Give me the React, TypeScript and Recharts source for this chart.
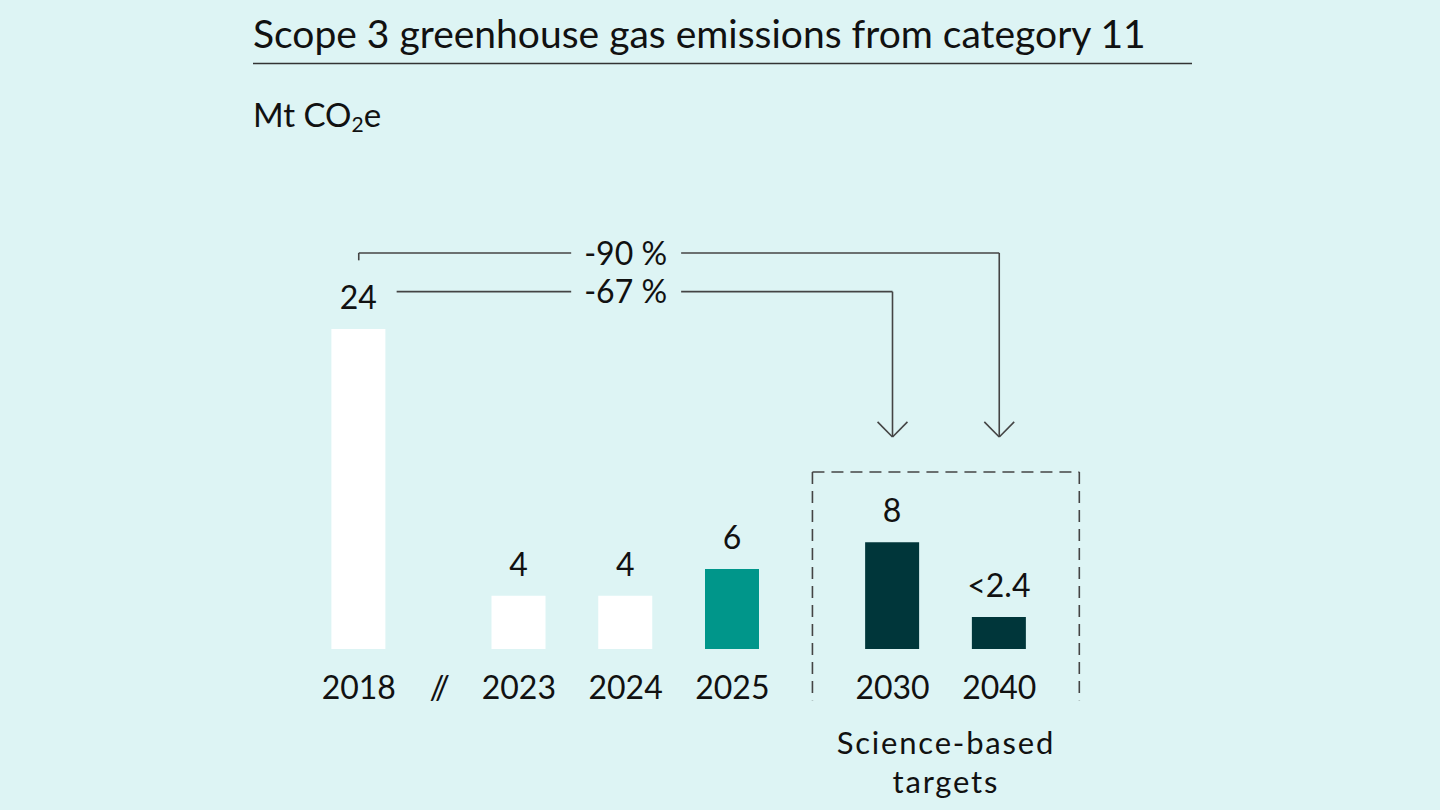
import { BarChart, Bar, XAxis, YAxis, Cell, LabelList, ReferenceLine, ReferenceDot } from 'recharts'

// categories on a numeric slot axis (gap after 2018 and before the targets)
const years = ['2018', '2023', '2024', '2025', '2030', '2040']
const slots = [0, 3, 5, 7, 10, 12]
const values = [24, 4, 4, 6, 8, 2.4]
const valueLabels = ['24', '4', '4', '6', '8', '<2.4']
const barColors = ['#ffffff', '#ffffff', '#ffffff', '#00968a', '#00363a', '#00363a']
const breakSlot = 1.5
const breakLabel = '//'

// reduction annotations
const reductions = ['-90 %', '-67 %']
const reductionLevels = [29.7, 26.8]
const reductionTargets = [12, 10]
const arrowTip = 15.9

const data = years.map((y, i) => ({ year: y, slot: slots[i], value: values[i], label: valueLabels[i] }))

const FONT = 'Lato, "Open Sans", sans-serif'
const INK = '#111'
const LINE = '#444'

const tickText: Record<number, string> = { [breakSlot]: breakLabel }
slots.forEach((s, i) => { tickText[s] = years[i] })

function YearTick(props: any) {
  const { x, y, payload } = props
  const isBreak = payload.value === breakSlot
  return (
    <text x={x} y={y} dy={50} textAnchor="middle" fontFamily={FONT} fontSize={isBreak ? 33 : 32} fill={INK} letterSpacing={isBreak ? -2 : 0}>
      {tickText[payload.value]}
    </text>
  )
}

function ValueLabel(props: any) {
  const { x, y, width, value } = props
  return (
    <text x={x + width / 2} y={y - 20} textAnchor="middle" fontFamily={FONT} fontSize={32} fill={INK}>
      {value}
    </text>
  )
}

const textShape = (txt: string, size = 32, spacing = 0) => (p: any) => (
  <text x={p.cx} y={p.cy} dy={size * 0.36} textAnchor="middle" fontFamily={FONT} fontSize={size} letterSpacing={spacing} fill={INK}>{txt}</text>
)

const seg = (x1: number, y1: number, x2: number, y2: number, key: string, dash?: string) => (
  <ReferenceLine
    key={key}
    segment={[{ x: x1, y: y1 }, { x: x2, y: y2 }]}
    stroke={LINE}
    strokeWidth={1.6}
    strokeDasharray={dash}
    ifOverflow="visible"
  />
)

export default function App() {
  const arrowHalfW = 0.28
  const arrowH = 1.13
  const annotations: any[] = []
  reductions.forEach((_, i) => {
    const lvl = reductionLevels[i]
    const tx = reductionTargets[i]
    const startX = i === 0 ? 0 : 0.71
    annotations.push(seg(startX, lvl, 3.98, lvl, `l${i}`))
    annotations.push(seg(6.04, lvl, tx, lvl, `r${i}`))
    annotations.push(seg(tx, lvl, tx, arrowTip, `v${i}`))
    annotations.push(seg(tx - arrowHalfW, arrowTip + arrowH, tx, arrowTip, `al${i}`))
    annotations.push(seg(tx, arrowTip, tx + arrowHalfW, arrowTip + arrowH, `ar${i}`))
    if (i === 0) annotations.push(seg(0, lvl, 0, lvl - 0.55, `t${i}`))
  })
  // dashed target box (open at the bottom)
  const boxL = 8.5, boxR = 13.5, boxT = 13.28, boxB = -3.85
  annotations.push(seg(boxL, boxT, boxR, boxT, 'bt', '12 7'))
  annotations.push(seg(boxL, boxT, boxL, boxB, 'bl', '12 7'))
  annotations.push(seg(boxR, boxT, boxR, boxB, 'br', '12 7'))

  return (
    <div style={{ position: 'absolute', left: 0, top: 0, width: 1440, height: 810, background: '#ddf4f4', overflow: 'hidden' }}>
      <svg width={1440} height={140} style={{ position: 'absolute', left: 0, top: 0 }}>
        <text x={253} y={48} fontFamily={FONT} fontSize={39} fill={INK}>Scope 3 greenhouse gas emissions from category 11</text>
        <line x1={253} x2={1192} y1={63.5} y2={63.5} stroke="#333" strokeWidth={1.6} />
        <text x={253} y={127} fontFamily={FONT} fontSize={33} fill={INK}>
          Mt CO<tspan fontSize={21} dy={5}>2</tspan><tspan dy={-5}>e</tspan>
        </text>
      </svg>
      <div style={{ position: 'absolute', left: 0, top: 0 }}>
        <BarChart width={1440} height={810} data={data} margin={{ top: 329, right: 334, bottom: 131, left: 252 }}>
          <XAxis
            dataKey="slot"
            type="number"
            domain={[-2, 14]}
            ticks={[0, breakSlot, 3, 5, 7, 10, 12]}
            axisLine={false}
            tickLine={false}
            tickSize={0}
            tickMargin={0}
            height={30}
            tick={<YearTick />}
            interval={0}
          />
          <YAxis hide domain={[0, 24]} />
          <Bar dataKey="value" barSize={54} isAnimationActive={false}>
            {data.map((d, i) => <Cell key={d.year} fill={barColors[i]} />)}
            <LabelList dataKey="label" content={<ValueLabel />} />
          </Bar>
          {annotations}
          {reductions.map((r, i) => (
            <ReferenceDot key={r} x={5} y={reductionLevels[i]} r={0} ifOverflow="visible" shape={textShape(r, 32)} />
          ))}
          <ReferenceDot x={11} y={-7.05} r={0} ifOverflow="visible" shape={textShape('Science-based', 31, 1.8)} />
          <ReferenceDot x={11} y={-10.0} r={0} ifOverflow="visible" shape={textShape('targets', 31, 1.8)} />
        </BarChart>
      </div>
    </div>
  )
}
